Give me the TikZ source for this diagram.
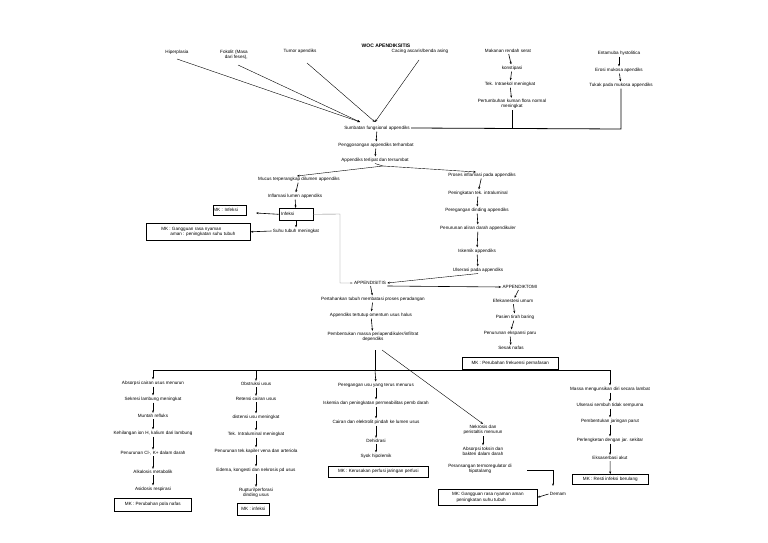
\documentclass[tikz,border=0pt]{standalone}
\usepackage{fontspec}
\setmainfont{Liberation Sans}
\usetikzlibrary{arrows.meta}
\begin{document}
\begin{tikzpicture}[x=1pt,y=-1pt,
  t/.style={font=\fontsize{4.6}{5.2}\selectfont,align=center,inner sep=1.2pt},
  bx/.style={t,draw,line width=0.6pt,align=left,anchor=north west,inner sep=0pt},
  ar/.style={-{Stealth[length=2.6pt,width=2pt]},line width=0.6pt},
  thin/.style={-{Stealth[length=2.6pt,width=2pt]},line width=0.4pt},
  bus/.style={line width=0.8pt}]
\useasboundingbox[fill=white] (0,0) rectangle (768,543);
\node[t,font=\fontsize{5}{6}\bfseries] (title) at (386,46) {WOC APENDIKSITIS};
% top causes
\node[t] (hip) at (177,52) {Hiperplasia};
\node[t] (fok) at (234,55) {Fokolit (Masa\\\quad dari feses),};
\node[t] (tum) at (300,51) {Tumor apendiks};
\node[t] (cac) at (420,51) {Cacing ascaris/benda asing};
\node[t] (sum) at (377,128) {Sumbatan fungsional appendiks};
\coordinate (s1) at (360,122); \coordinate (s2) at (375,122);
\draw[thin] (177,59) -- (s1);
\draw[thin] (238,65) -- (s1);
\draw[thin] (307,63) -- (s2);
\draw[thin] (419,60) -- (s2);
\node[t] (mak) at (508,51) {Makanan rendah serat};
\node[t] (kon) at (512,68) {konstipasi};
\node[t] (tek) at (510,84) {Tek. Intraekol meningkat};
\node[t] (per) at (512,104) {Pertumbuhan kuman flora normal\\meningkat};
\draw[ar] (mak) -- (kon); \draw[ar] (kon) -- (tek); \draw[ar] (tek) -- (per);
\node[t] (ent) at (619,53) {Entamuba hystolitica};
\node[t] (ero) at (619,70) {Erosi mukosa apendiks};
\node[t] (tuk) at (621,85) {Tukak pada mukosa appendiks};
\draw[ar] (ent) -- (ero); \draw[ar] (ero) -- (tuk);
\draw[bus] (sum.east) -- (621,129) -- (tuk.south);
\draw[bus] (per.south) -- (512,129);
\node[t] (pen) at (376,145) {Penggosongan appendiks terhambat};
\node[t] (lip) at (375,160) {Appendiks terlipat dan tersumbat};
\draw[ar] (sum) -- (pen); \draw[ar] (pen) -- (lip);
\node[t] (muc) at (299,179) {Mucus terperangkap dilumen appendiks};
\node[t] (pro) at (482,175) {Proses inflamasi pada appendiks};
\coordinate (lt) at (383,166);
\draw[thin] (lip.south) -- (lt) -- (297,176);
\draw[thin] (lt) -- (476,172);
\node[t] (inf) at (295,196) {Inflamasi lumen appendiks};
\draw[ar] (muc) -- (inf);
\node[t,draw,line width=0.6pt,minimum width=34pt,minimum height=12pt,anchor=north,align=left,text width=30pt] (ifk) at (296,208) {Infeksi};
\draw[ar] (inf) -- (ifk);
\node[bx,minimum width=33pt,minimum height=10pt,text width=33pt] (mki) at (213,205) {MK : Infeksi};
\draw[ar] (ifk.west) -- (256,213);
\node[t] (suh) at (296,231) {Suhu tubuh meningkat};
\draw[ar] (ifk) -- (suh);
\node[bx,minimum width=104pt,minimum height=17pt] (mkg) at (146,223) {MK : Gangguan rasa nyaman\\\qquad aman : peningkatan suhu tubuh};
\draw[ar] (suh.west) -- (mkg.east);
\node[t] (apd) at (370,283) {APPENDISITIS};
\draw[thin,gray] (ifk.east) -- (340,214) -- (340,283) -- (apd.west);
\node[t] (pti) at (478,193) {Peningkatan tek. intraluminal};
\node[t] (pdi) at (477,210) {Peregangan dinding appendiks};
\node[t] (pal) at (478,228) {Penurunan aliran darah appendikuler};
\node[t] (isk) at (477,251) {Iskemik appendiks};
\node[t] (uls) at (478,270) {Ulserasi pada appendiks};
\draw[ar] (pro) -- (pti); \draw[ar] (pti) -- (pdi); \draw[ar] (pdi) -- (pal);
\draw[ar] (pal) -- (isk); \draw[ar] (isk) -- (uls);
\draw[thin] (uls.south) -- (apd.east);
\node[t] (ato) at (520,287) {APPENDIKTOMI};
\draw[ar] (apd.east) ++(0,3) -- (ato.west);
\node[t] (pth) at (373,299) {Pertahankan tubuh membatasi proses peradangan};
\node[t] (tut) at (371,315) {Appendiks tertutup omentum usus halus};
\node[t] (mas) at (373,337) {Pembentukan massa periapendikuler/infiltrat\\dependiks};
\draw[ar] (apd) -- (pth); \draw[ar] (pth) -- (tut); \draw[ar] (tut) -- (mas);
\node[t] (efe) at (513,301) {Efekanestesi umum};
\node[t] (pas) at (515,317) {Pasien tirah baring};
\node[t] (pep) at (510,333) {Penurunan ekspansi paru};
\node[t] (ses) at (511,348) {Sesak nafas};
\draw[ar] (ato) -- (efe); \draw[ar] (efe) -- (pas); \draw[ar] (pas) -- (pep); \draw[ar] (pep) -- (ses);
\node[bx,minimum width=96pt,minimum height=12pt] (mkp) at (462,357) {MK : Perubahan frekuensi pernafasan};
% bus
\coordinate (b1) at (153,370); \coordinate (b2) at (256,370); \coordinate (b3) at (375,370); \coordinate (b4) at (610,370);
\draw[bus] (b1) -- (b4);
\draw[bus] (375,342) ++(0,8) -- (b3);
% column 1
\node[t] (c11) at (153,383) {Absorpsi cairan usus menurun};
\node[t] (c12) at (153,399) {Sekresi lambung meningkat};
\node[t] (c13) at (153,416) {Muntah refluks};
\node[t] (c14) at (153,433) {Kehilangan ion H, kalium dari lambung};
\node[t] (c15) at (153,453) {Penurunan Cl-, K+ dalam darah};
\node[t] (c16) at (153,472) {Alkalosis metabolik};
\node[t] (c17) at (153,489) {Asidosis respirasi};
\node[bx,minimum width=77pt,minimum height=13pt] (c18) at (114,498) {MK : Perubahan pola nafas};
\draw[ar] (b1) -- (c11); \draw[ar] (c11) -- (c12); \draw[ar] (c12) -- (c13); \draw[ar] (c13) -- (c14);
\draw[ar] (c14) -- (c15); \draw[ar] (c15) -- (c16); \draw[ar] (c16) -- (c17);
% column 2
\node[t] (c21) at (256,384) {Obstruksi usus};
\node[t] (c22) at (256,399) {Retensi cairan usus};
\node[t] (c23) at (256,417) {distensi usu meningkat};
\node[t] (c24) at (256,434) {Tek. Intraluminal meningkat};
\node[t] (c25) at (256,451) {Penurunan tek.kapiler vena dan arteriola};
\node[t] (c26) at (256,470) {Edema, kongesti dan nekrosis pd usus};
\node[t] (c27) at (256,493) {Rupturi/perforasi\\dinding usus};
\node[bx,minimum width=32pt,minimum height=12pt] (c28) at (237,503) {MK : infeksi};
\draw[ar] (b2) -- (c21); \draw[ar] (c21) -- (c22); \draw[ar] (c22) -- (c23); \draw[ar] (c23) -- (c24);
\draw[ar] (c24) -- (c25); \draw[ar] (c25) -- (c26); \draw[ar] (c26) -- (c27);
% column 3
\node[t] (c31) at (376,385) {Peregangan usu yang terus menurus};
\node[t] (c32) at (376,403) {Iskemia dan peningkatan permeabilitas pemb darah};
\node[t] (c33) at (376,422) {Cairan dan elektrolit pindah ke lumen usus};
\node[t] (c34) at (376,441) {Dehidrasi};
\node[t] (c35) at (376,456) {Syok hipolemik};
\node[bx,minimum width=100pt,minimum height=11pt] (c36) at (328,466) {MK : Kerusakan perfusi jaringan perfusi};
\draw[ar] (b3) -- (c31); \draw[ar] (c31) -- (c32); \draw[ar] (c32) -- (c33); \draw[ar] (c33) -- (c34); \draw[ar] (c34) -- (c35);
% nekrosis branch
\node[t] (nek) at (483,430) {Nekrosis dan\\peristaltis menurun};
\node[t] (abs) at (483,451) {Absorpsi toksin dan\\bakteri dalam darah};
\node[t] (ter) at (480,469) {Peransangan termoregulator di\\hipotalamg};
\draw[thin] (382,350) -- (nek.north);
\draw[ar] (nek) -- (abs);
\node[t] (dem) at (558,494) {Demam};
\draw[ar] (527,470) -- (553,470) -- (553,486);
\node[bx,minimum width=99pt,minimum height=16pt] (mkd) at (438,489) {MK: Gangguan rasa nyaman aman\\\quad peningkatan suhu tubuh};
\draw[ar] (dem.west) -- (mkd.east);
% column 4
\node[t] (c41) at (610,389) {Massa mengunsikan diri secara lambat};
\node[t] (c42) at (610,405) {Ulserasi sembuh tidak sempurna};
\node[t] (c43) at (610,421) {Pembentukan jaringan parut};
\node[t] (c44) at (610,440) {Perlengketan dengan jar. sekitar};
\node[t] (c45) at (610,458) {Eksaserbasi akut};
\node[bx,minimum width=76pt,minimum height=10pt,align=center] (c46) at (572,474) {MK : Resti infeksi berulang};
\draw[ar] (b4) -- (c41); \draw[ar] (c41) -- (c42); \draw[ar] (c42) -- (c43); \draw[ar] (c43) -- (c44); \draw[ar] (c44) -- (c45); \draw[ar] (c45) -- (c46);
\end{tikzpicture}
\end{document}
